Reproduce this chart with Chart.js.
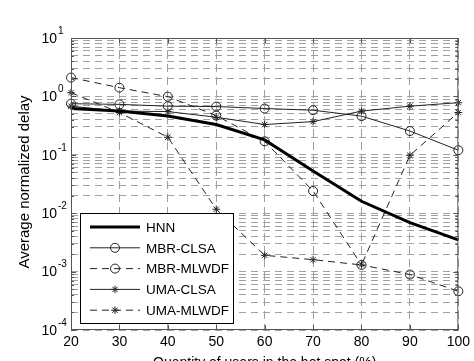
<!DOCTYPE html>
<html>
<head>
<meta charset="utf-8">
<script src="https://cdn.jsdelivr.net/npm/chart.js@4/dist/chart.umd.min.js"></script>
<style>
  html,body{margin:0;padding:0;background:#fff;}
  #wrap{width:474px;height:361px;position:relative;}
</style>
</head>
<body>
<div id="wrap"><canvas id="chart" width="474" height="361"></canvas></div>
<script>
// data
const users = [20,30,40,50,60,70,80,90,100];
const hnn      = [0.62,0.56,0.46,0.33,0.18,0.053,0.016,0.0069,0.0035];
const mbrClsa  = [0.75,0.73,0.68,0.67,0.62,0.58,0.46,0.255,0.12];
const mbrMlwdf = [2.1,1.41,0.99,0.47,0.17,0.024,0.0013,0.00089,0.00046];
const umaClsa  = [0.68,0.56,0.55,0.44,0.33,0.37,0.56,0.68,0.78];
const umaMlwdf = [1.16,0.53,0.2,0.0117,0.0019,0.0016,0.0013,0.098,0.53];
const xTicks = [20,30,40,50,60,70,80,90,100];
const decades = [-4,-3,-2,-1,0,1];

const FONT = "'Liberation Sans', Arial, Helvetica, sans-serif";
const ink = '#222';

function series(label, data, opts){
  return Object.assign({
    label, data: users.map((u,i)=>({x:u,y:data[i]})),
    borderColor: ink, borderWidth: 1, pointBorderColor: ink,
    pointBackgroundColor: 'rgba(0,0,0,0)', pointBorderWidth: 1,
    pointRadius: 4.5, pointHoverRadius: 4.5, tension: 0, clip: false, fill: false
  }, opts);
}

const datasets = [
  series('HNN', hnn, {borderColor:'#000', borderWidth:3, pointRadius:0, pointStyle:false}),
  series('MBR-CLSA', mbrClsa, {pointStyle:'circle'}),
  series('MBR-MLWDF', mbrMlwdf, {pointStyle:'circle', borderDash:[7,5]}),
  series('UMA-CLSA', umaClsa, {pointStyle:'star', pointRadius:3.8, pointHoverRadius:3.8}),
  series('UMA-MLWDF', umaMlwdf, {pointStyle:'star', pointRadius:3.8, pointHoverRadius:3.8, borderDash:[7,5]})
];

// y tick values: 1..9 x 10^k
const yTickVals = [];
decades.forEach(p=>{
  for(let m=1;m<=9;m++){
    const v = m*Math.pow(10,p);
    if(v<=10.0001) yTickVals.push(v);
  }
});

const decorPlugin = {
  id:'decor',
  afterDatasetsDraw(chart){
    const {ctx, chartArea:a, scales:{x,y}} = chart;
    ctx.save();
    // box
    ctx.strokeStyle = '#555'; ctx.lineWidth = 1; ctx.setLineDash([]);
    ctx.strokeRect(a.left+0.5, a.top+0.5, a.right-a.left-1, a.bottom-a.top-1);
    // inward ticks
    ctx.beginPath();
    xTicks.forEach(v=>{
      const px = Math.round(x.getPixelForValue(v))+0.5;
      ctx.moveTo(px,a.bottom); ctx.lineTo(px,a.bottom-5);
      ctx.moveTo(px,a.top); ctx.lineTo(px,a.top+5);
    });
    yTickVals.forEach(v=>{
      const py = Math.round(y.getPixelForValue(v))+0.5;
      const major = Math.abs(Math.log10(v)-Math.round(Math.log10(v)))<1e-6;
      const len = major?5:3;
      ctx.moveTo(a.left,py); ctx.lineTo(a.left+len,py);
      ctx.moveTo(a.right,py); ctx.lineTo(a.right-len,py);
    });
    ctx.stroke();

    // y labels 10^k
    ctx.fillStyle = '#000';
    decades.forEach(p=>{
      const py = y.getPixelForValue(Math.pow(10,p));
      ctx.font = '14px '+FONT;
      ctx.textAlign = 'right'; ctx.textBaseline = 'middle';
      ctx.fillText('10', 57, py+1);
      ctx.font = '10px '+FONT;
      ctx.textAlign = 'left';
      ctx.fillText(String(p), 58, py-7);
    });

    // axis titles
    ctx.font = '14px '+FONT;
    ctx.textAlign = 'center'; ctx.textBaseline = 'top';
    ctx.fillText('Quantity of users in the hot spot (%)', (a.left+a.right)/2, 356);
    ctx.save();
    ctx.font = '15px '+FONT;
    ctx.translate(25,182);
    ctx.rotate(-Math.PI/2);
    ctx.textBaseline = 'middle';
    ctx.fillText('Average normalized delay', 0, 0);
    ctx.restore();

    // legend box
    const lx=80, ly=213, lw=153, lh=110;
    ctx.fillStyle='#fff';
    ctx.fillRect(lx,ly,lw,lh);
    ctx.strokeStyle='#000'; ctx.lineWidth=1;
    ctx.strokeRect(lx+0.5,ly+0.5,lw,lh);
    chart.data.datasets.forEach((ds,i)=>{
      const ry = 227 + i*20.8;
      ctx.strokeStyle = ds.borderColor; ctx.lineWidth = ds.borderWidth;
      ctx.setLineDash(ds.borderDash||[]);
      ctx.beginPath(); ctx.moveTo(90,ry); ctx.lineTo(140,ry); ctx.stroke();
      ctx.setLineDash([]);
      if(ds.pointStyle){
        ctx.fillStyle = 'rgba(0,0,0,0)';
        ctx.strokeStyle = ink; ctx.lineWidth = 1;
        Chart.helpers.drawPoint(ctx,{pointStyle:ds.pointStyle,radius:ds.pointRadius,rotation:0,borderWidth:1},115,ry);
      }
      ctx.fillStyle='#000';
      ctx.font='13.5px '+FONT;
      ctx.textAlign='left'; ctx.textBaseline='middle';
      ctx.fillText(ds.label, 146, ry+1);
    });
    ctx.restore();
  }
};

new Chart(document.getElementById('chart'),{
  type:'line',
  data:{datasets},
  options:{
    responsive:false, animation:false,
    layout:{padding:{left:0,right:15,top:38,bottom:0}},
    plugins:{legend:{display:false},tooltip:{enabled:false}},
    scales:{
      x:{
        type:'linear', min:20, max:100,
        afterBuildTicks(s){ s.ticks = xTicks.map(v=>({value:v})); },
        afterFit(s){ s.height = 31; },
        ticks:{color:'#000', font:{family:FONT,size:14}, padding:4, maxRotation:0},
        grid:{color:'#a0a0a0', lineWidth:1, drawTicks:false},
        border:{display:false, dash:[8,5]}
      },
      y:{
        type:'logarithmic', min:1e-4, max:10,
        afterBuildTicks(s){ s.ticks = yTickVals.map(v=>({value:v})); },
        afterFit(s){ s.width = 71; },
        ticks:{display:false},
        grid:{color:'#a0a0a0', lineWidth:1, drawTicks:false},
        border:{display:false, dash:[7,5]}
      }
    }
  },
  plugins:[decorPlugin]
});
</script>
</body>
</html>
